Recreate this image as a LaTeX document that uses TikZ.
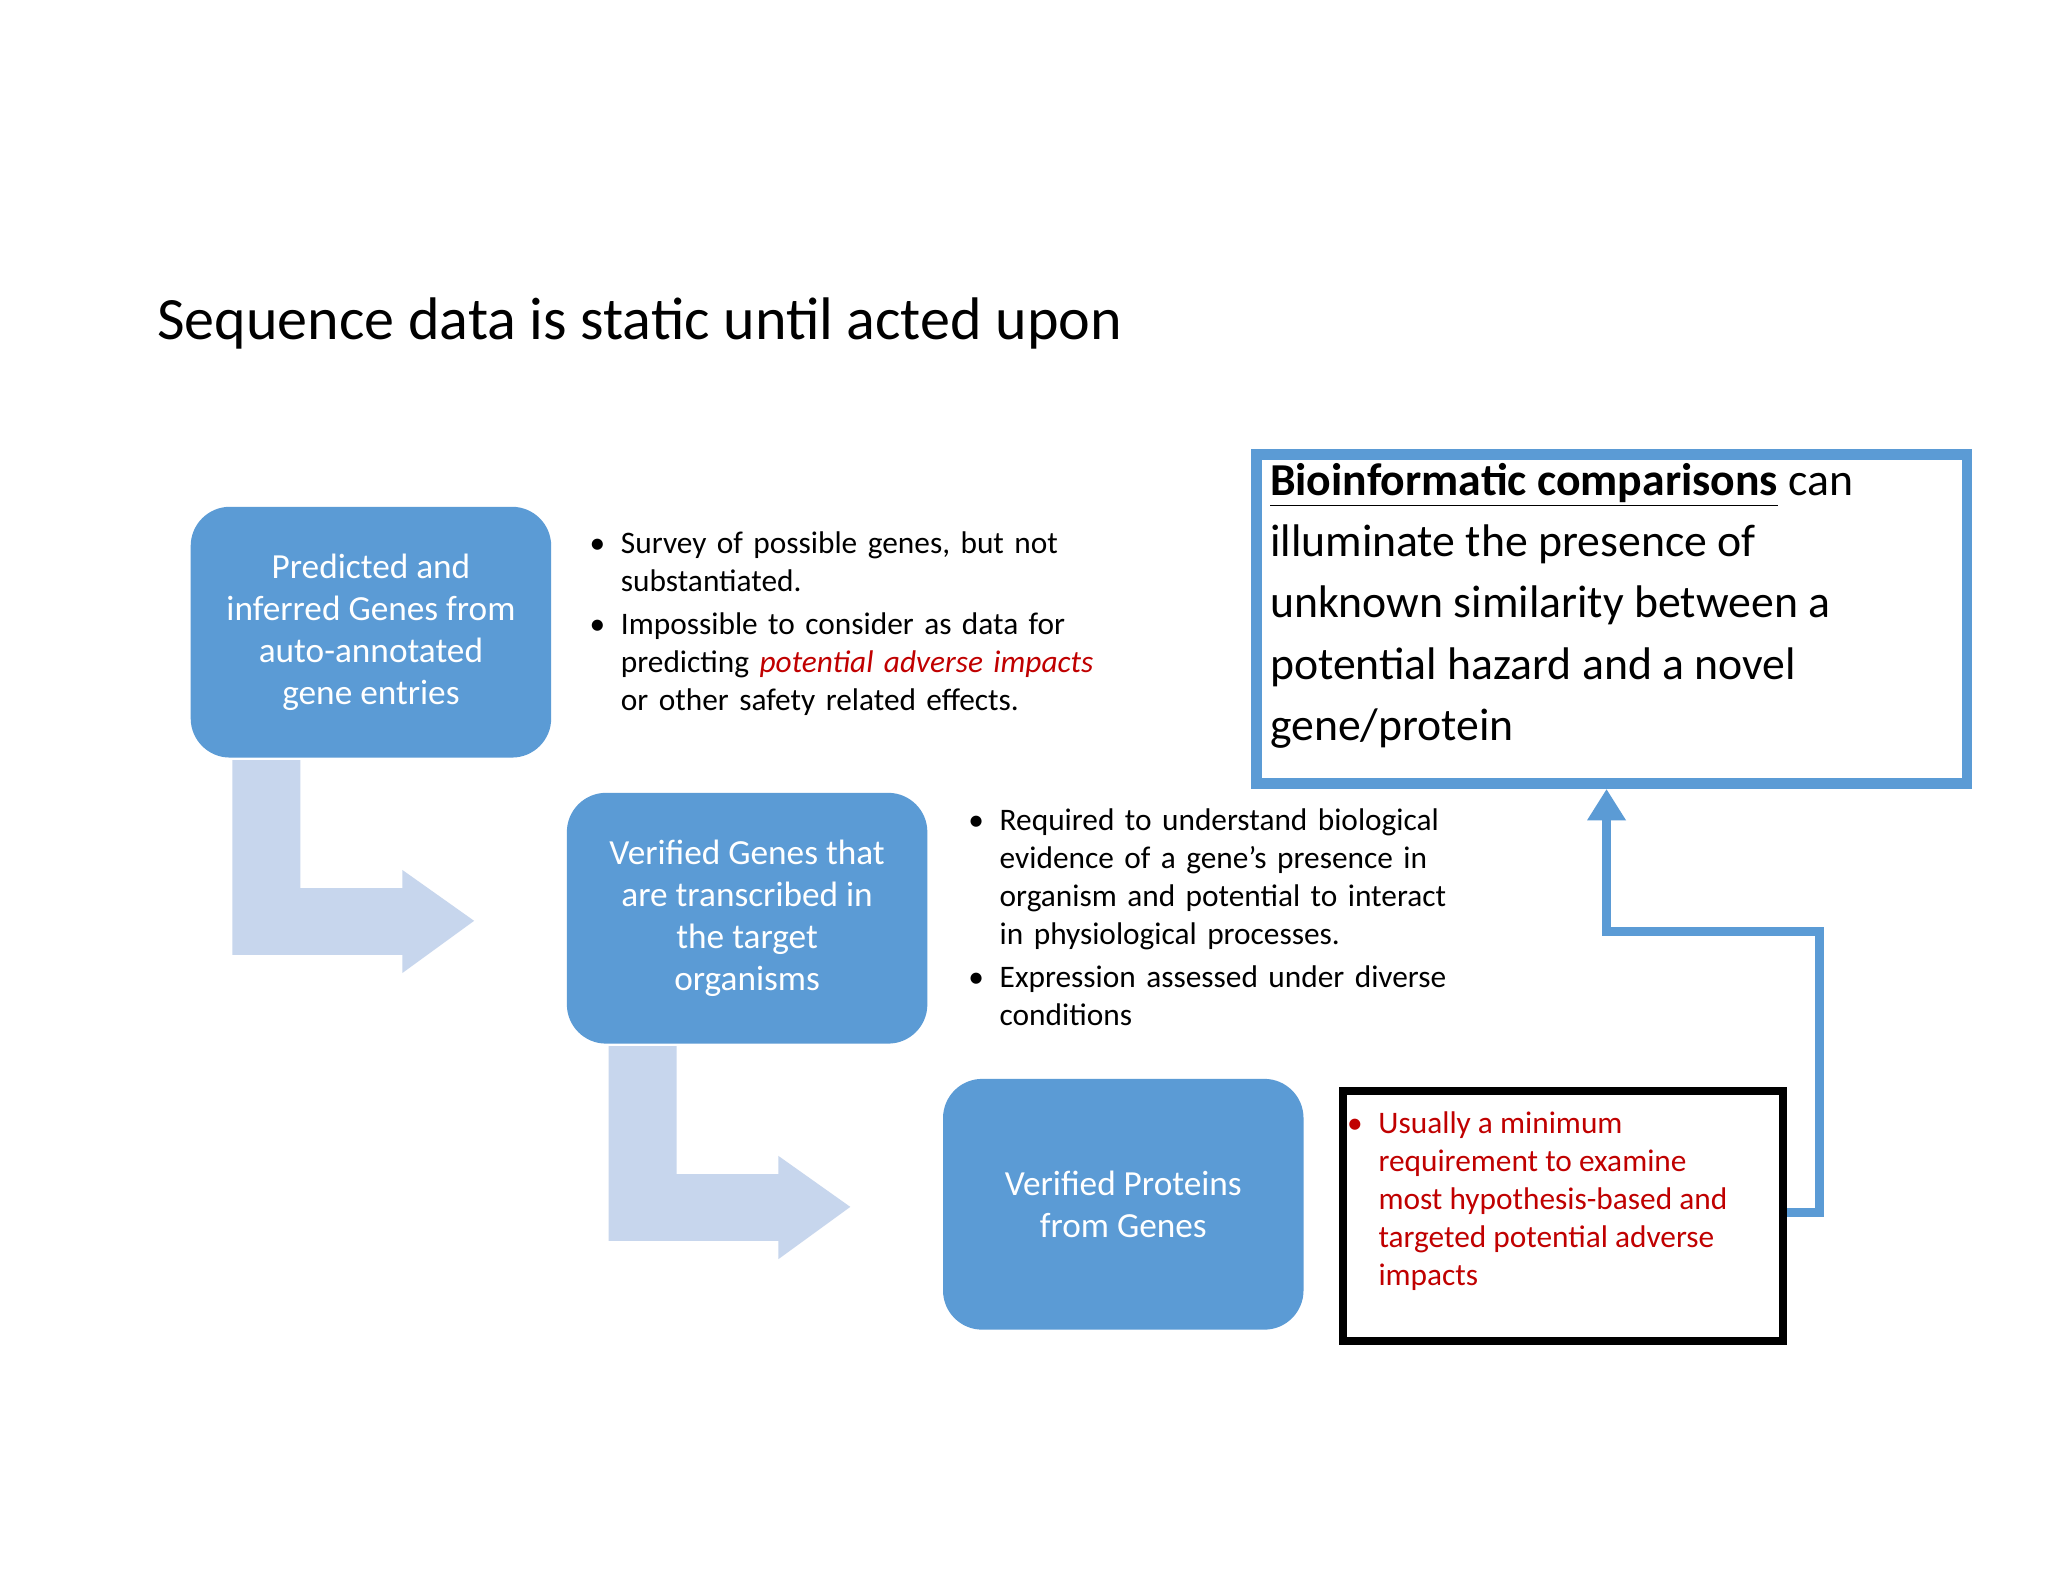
\documentclass[tikz,border=0pt]{standalone}
\usepackage{fontspec}
\setmainfont{Carlito}
\usetikzlibrary{arrows.meta}
\definecolor{boxblue}{HTML}{5B9BD5}
\definecolor{lightblue}{HTML}{C7D6ED}
\definecolor{darkred}{HTML}{C00000}
\begin{document}
\begin{tikzpicture}[x=0.5pt,y=-0.5pt,
  stage/.style={fill=boxblue,rounded corners=15pt,minimum width=138pt,minimum height=96pt,text=white,align=center,font=\fontsize{13.5}{16}\selectfont,inner sep=0pt},
  txt/.style={anchor=north west,align=left,inner sep=0pt,font=\fontsize{12}{14.5}\selectfont},
  bent/.style={fill=lightblue,draw=none}]
\useasboundingbox (0,0) rectangle (1568,1211);
\fill[white] (0,0) rectangle (1568,1211);
\node[anchor=west,inner sep=0pt,font=\fontsize{23}{28}\selectfont] (title) at (120,248) {Sequence data is static until acted upon};
\node[stage] (b1) at (284,484) {Predicted and\\inferred Genes from\\auto-annotated\\gene entries};
\node[stage] (b2) at (572,703) {Verified Genes that\\are transcribed in\\the target\\organisms};
\node[stage] (b3) at (860,922) {Verified Proteins\\from Genes};
\foreach \dx/\dy in {0/0,288/219}{
  \fill[bent,shift={(\dx,\dy)}] (178,582) -- (230,582) -- (230,680) -- (308,680) -- (308,666) -- (363,705) -- (308,745) -- (308,731) -- (178,731) -- cycle;
}
\node[txt,text width=200pt] (t1) at (475,407) {\makebox[0pt][r]{\textbullet\hspace{6pt}}Survey of possible genes, but not\\substantiated.};
\node[txt,text width=200pt] (t2) at (475,469) {\makebox[0pt][r]{\textbullet\hspace{6pt}}Impossible to consider as data for\\predicting \textcolor{darkred}{\itshape potential adverse impacts}\\or other safety related effects.};
\node[txt,text width=200pt] (t3) at (765,619) {\makebox[0pt][r]{\textbullet\hspace{6pt}}Required to understand biological\\evidence of a gene’s presence in\\organism and potential to interact\\in physiological processes.};
\node[txt,text width=200pt] (t4) at (765,739) {\makebox[0pt][r]{\textbullet\hspace{6pt}}Expression assessed under diverse\\conditions};
\node[draw=boxblue,line width=4pt,minimum width=272pt,minimum height=126pt,anchor=north west,inner sep=0pt] (bio) at (958,344) {};
\node[txt,font=\fontsize{17.5}{23.5}\selectfont] (biot) at (972,354) {\underline{\textbf{Bioinformatic comparisons}} can\\illuminate the presence of\\unknown similarity between a\\potential hazard and a novel\\gene/protein};
\node[draw=black,line width=3pt,minimum width=168.5pt,minimum height=96pt,anchor=north west,inner sep=0pt] (red) at (1025,832) {};
\node[txt,text=darkred] (redt) at (1055,851) {\makebox[0pt][r]{\textbullet\hspace{6pt}}Usually a minimum\\requirement to examine\\most hypothesis-based and\\targeted potential adverse\\impacts};
\coordinate (c1) at (1393,928);
\coordinate (c2) at (1393,713);
\coordinate (c3) at (1230,713);
\draw[boxblue,line width=3.5pt,-{Triangle[length=12pt,width=14pt]}] (red.east |- c1) -- (c1) -- (c2) -- (c3) -- (bio.south -| c3);
\end{tikzpicture}
\end{document}
